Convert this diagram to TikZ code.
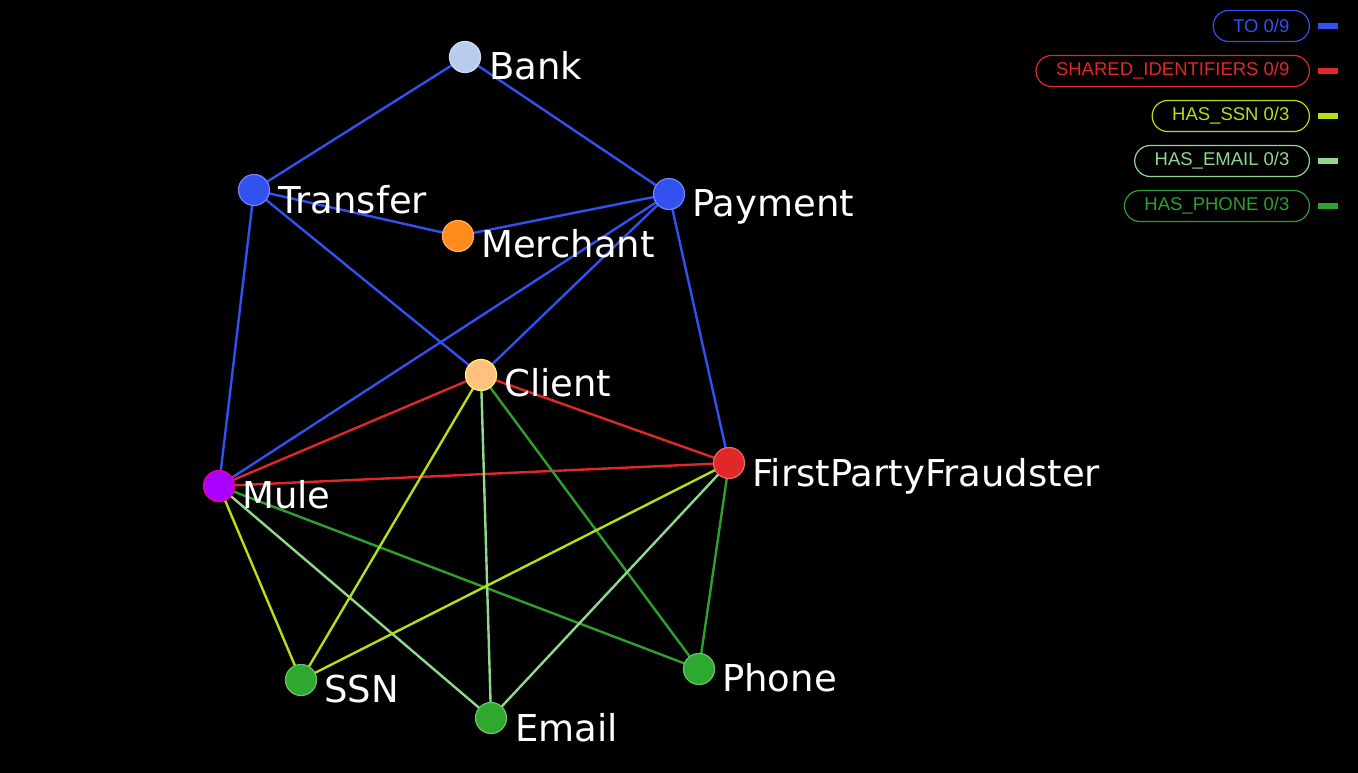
\documentclass[tikz,border=0pt]{standalone}
\usepackage{fontspec}
\setmainfont{DejaVu Sans}
\newfontfamily\legfont{Liberation Sans}
\begin{document}
\begin{tikzpicture}[x=1pt,y=-1pt,
  nd/.style={circle,draw=#1!70!white,line width=1.2pt,fill=#1,minimum size=31pt,inner sep=0pt},
  lab/.style={anchor=base west,font=\fontsize{37}{37}\selectfont,text=white,inner sep=0pt},
  e/.style={line width=2.4pt,draw=#1},
  pill/.style={draw=#1,text=#1,rounded corners=15.5pt,minimum height=31pt,line width=1.2pt,anchor=east,font=\legfont\fontsize{18.5}{18.5}\selectfont,inner xsep=20pt},
  bar/.style={fill=#1,draw=none}]
\definecolor{cto}{HTML}{3350F0}
\definecolor{csh}{HTML}{E02828}
\definecolor{cssn}{HTML}{B4E014}
\definecolor{cem}{HTML}{90D890}
\definecolor{cph}{HTML}{2EA02E}
\definecolor{cbank}{HTML}{B8CCEE}
\definecolor{cmer}{HTML}{FF8C1A}
\definecolor{ccli}{HTML}{FFC080}
\definecolor{cmule}{HTML}{AA00FF}
\definecolor{cid}{HTML}{2FA82F}
\fill[black] (0,0) rectangle (1358,773);
\useasboundingbox (0,0) rectangle (1358,773);
\coordinate (Bank) at (465,57);
\coordinate (Transfer) at (254,190);
\coordinate (Payment) at (669,194);
\coordinate (Merchant) at (458,236);
\coordinate (Client) at (481,375);
\coordinate (FPF) at (729,463);
\coordinate (Mule) at (219,486);
\coordinate (SSN) at (301,680);
\coordinate (Email) at (491,718);
\coordinate (Phone) at (699,669);
\foreach \a/\b in {Bank/Transfer,Bank/Payment,Transfer/Merchant,Payment/Merchant,Transfer/Mule,Transfer/Client,Payment/Client,Payment/Mule,Payment/FPF}
  \draw[e=cto] (\a) -- (\b);
\foreach \a/\b in {Client/Mule,Mule/FPF,Client/FPF}
  \draw[e=csh] (\a) -- (\b);
\foreach \a in {Mule,Client,FPF} {
  \draw[e=cssn] (\a) -- (SSN);
  \draw[e=cem] (\a) -- (Email);
  \draw[e=cph] (\a) -- (Phone);
}
\node[nd=cbank] (nBank) at (Bank) {};
\node[nd=cto] (nTransfer) at (Transfer) {};
\node[nd=cto] (nPayment) at (Payment) {};
\node[nd=cmer] (nMerchant) at (Merchant) {};
\node[nd=ccli,draw=yellow!60!white] (nClient) at (Client) {};
\node[nd=csh] (nFPF) at (FPF) {};
\node[nd=cmule,draw=magenta] (nMule) at (Mule) {};
\node[nd=cid] (nSSN) at (SSN) {};
\node[nd=cid] (nEmail) at (Email) {};
\node[nd=cid] (nPhone) at (Phone) {};
\node[lab] (lBank) at (489,80) {Bank};
\node[lab] (lTransfer) at (278,213) {Transfer};
\node[lab] (lPayment) at (692,216) {Payment};
\node[lab] (lMerchant) at (481,257) {Merchant};
\node[lab] (lClient) at (504,396) {Client};
\node[lab] (lFPF) at (752,486) {FirstPartyFraudster};
\node[lab] (lMule) at (242,508) {Mule};
\node[lab] (lSSN) at (324,702) {SSN};
\node[lab] (lEmail) at (515,741) {Email};
\node[lab] (lPhone) at (722,691) {Phone};
\node[pill=cto] (p1) at (1310,26) {TO 0/9};
\node[pill=csh] (p2) at (1310,71) {SHARED\_IDENTIFIERS 0/9};
\node[pill=cssn] (p3) at (1310,116) {HAS\_SSN 0/3};
\node[pill=cem] (p4) at (1310,161) {HAS\_EMAIL 0/3};
\node[pill=cph] (p5) at (1310,206) {HAS\_PHONE 0/3};
\foreach \y/\c in {26/cto,71/csh,116/cssn,161/cem,206/cph}
  \fill[\c] (1318,\y-3) rectangle (1338,\y+3);
\end{tikzpicture}
\end{document}
